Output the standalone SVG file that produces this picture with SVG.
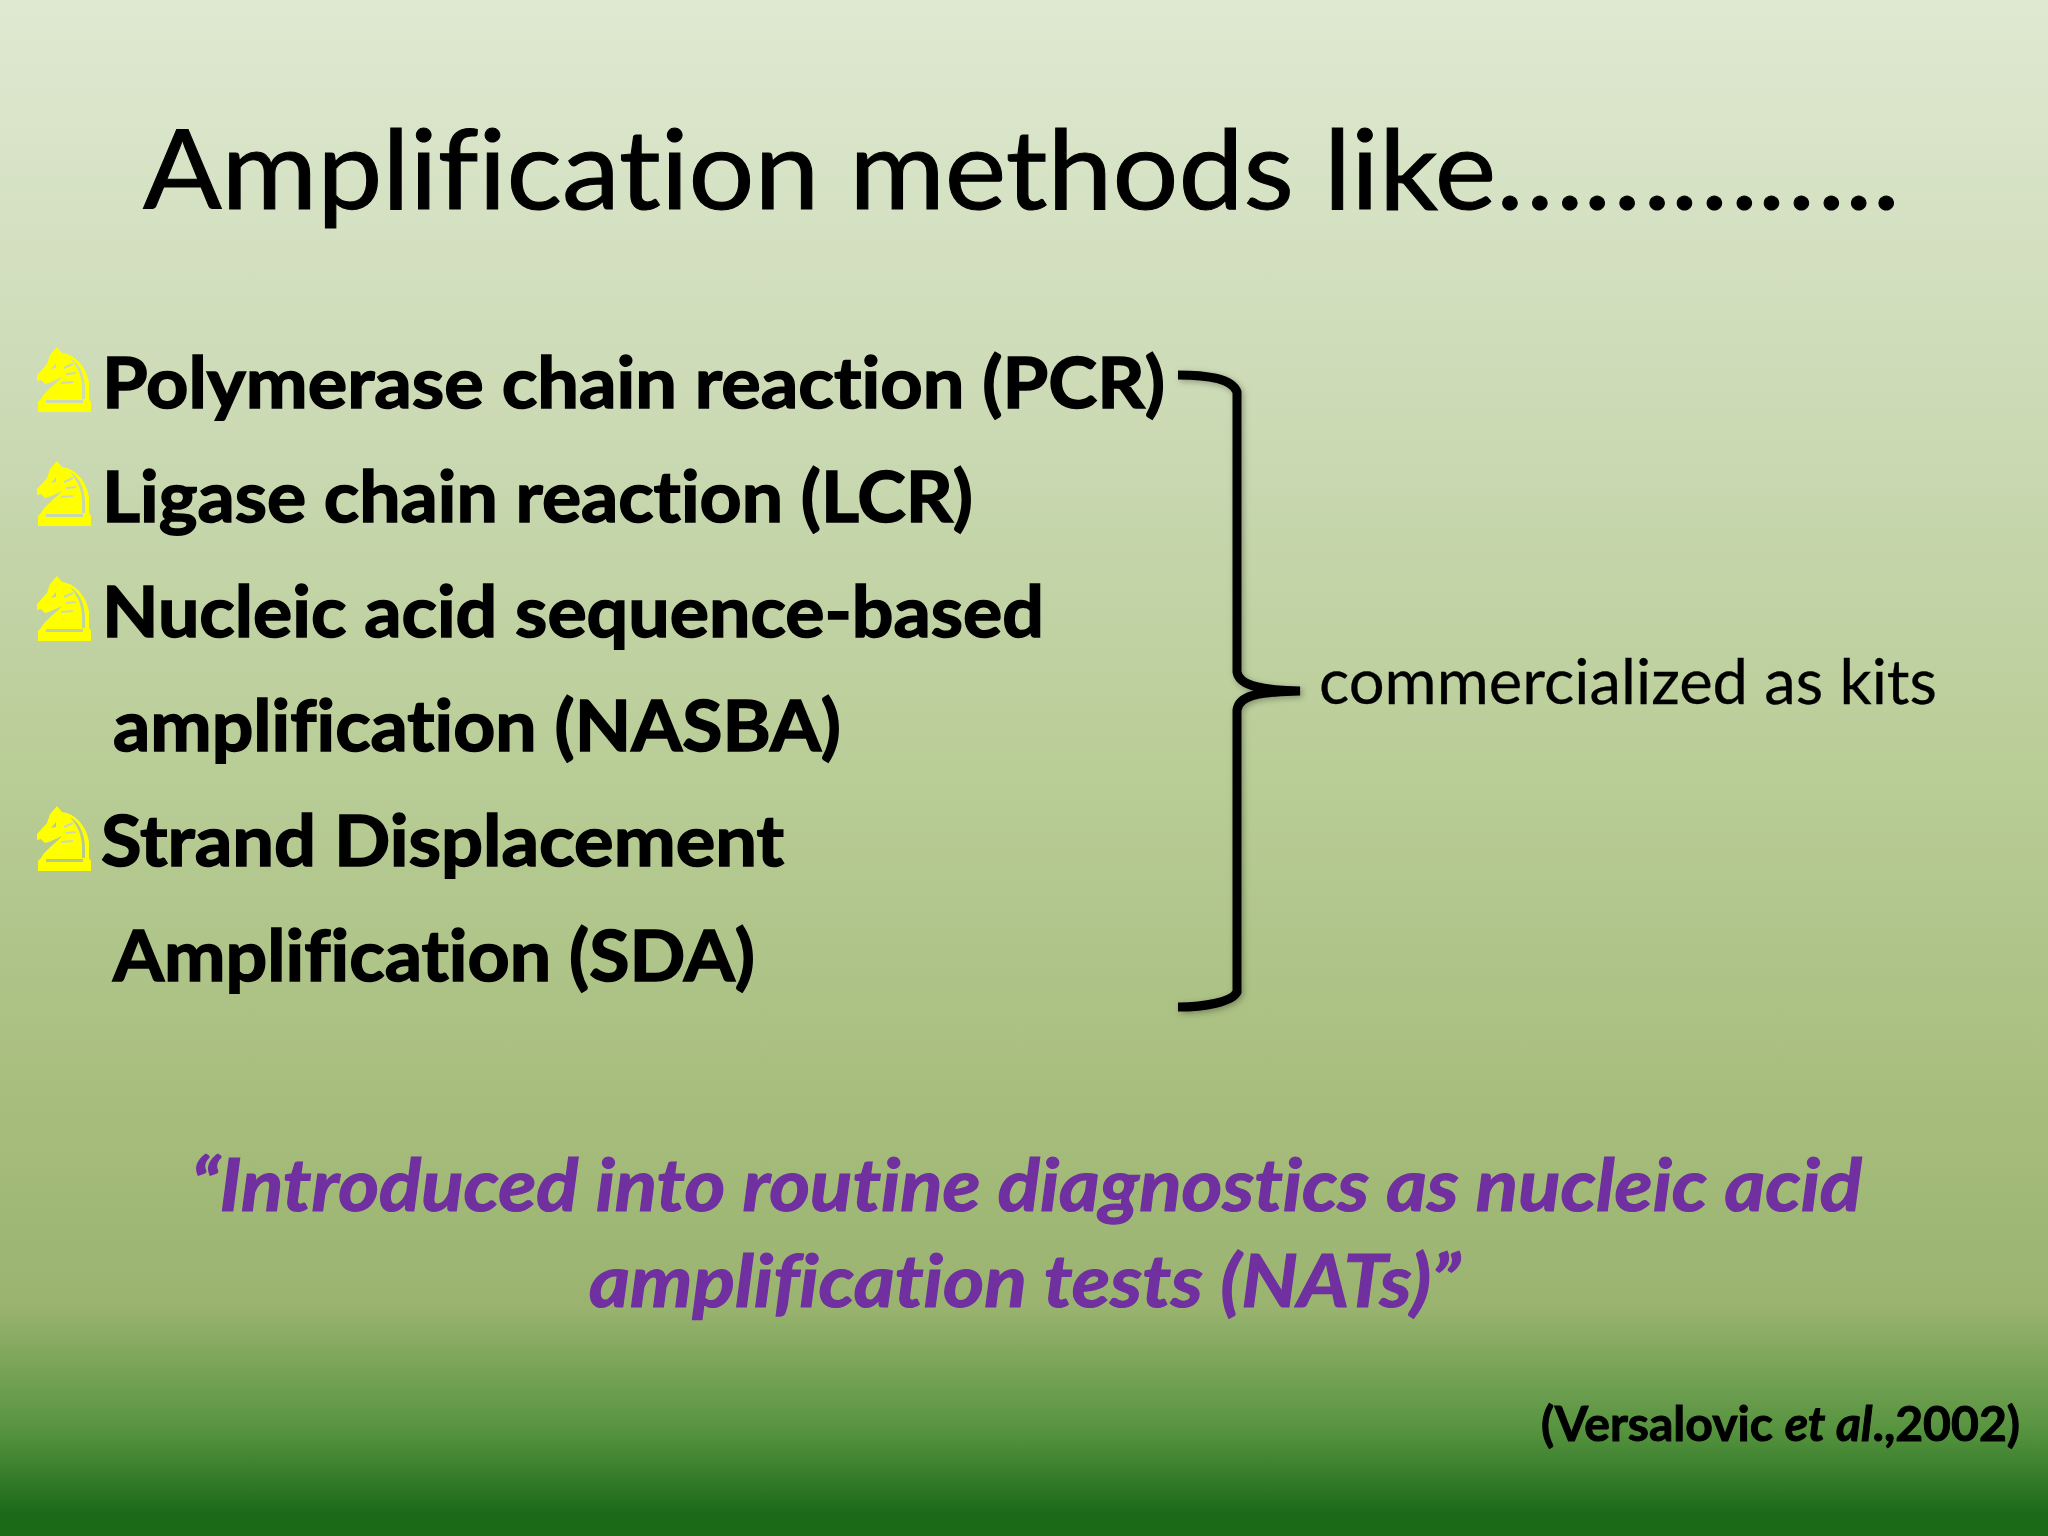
<svg xmlns="http://www.w3.org/2000/svg" width="2048" height="1536" viewBox="0 0 2048 1536">
<defs>
<linearGradient id="bg" x1="0" y1="0" x2="0" y2="1">
<stop offset="0" stop-color="#dfe9d1"/><stop offset="0.25" stop-color="#cddbb7"/><stop offset="0.5" stop-color="#b9cd97"/><stop offset="0.72" stop-color="#a7bd7d"/><stop offset="0.85" stop-color="#9ab470"/><stop offset="0.93" stop-color="#589440"/><stop offset="0.985" stop-color="#1b6a1a"/><stop offset="1" stop-color="#1a6a18"/>
</linearGradient>
<filter id="sh" x="-20%" y="-5%" width="140%" height="110%"><feDropShadow dx="2" dy="2" stdDeviation="3" flood-color="#000" flood-opacity="0.3"/></filter>
<g id="knight">
<path fill-rule="evenodd" fill="#ffff00" d="M20 0 L25 6 C40 8 50 22 52 36 L52 52 L54 55 L54 65 L1 65 L1 55 L4 52 C8 44 18 38 25 30 C19 33 12 36 8 37 L4 33 L0 34 L0 28 L10 17 L13 8 Z
M14 22 L19 16 L19 21 Z M33 11 C42 16 47 26 48 40 L48 52 L45 52 L45 38 C44 26 39 18 33 11 Z M9 53 L9 56 L46 56 L46 53 Z"/>
<path d="M27 21 L36 17 M29 27 L39 26 M24 36 L36 35" fill="none" stroke="#cdd9b5" stroke-width="2"/>
</g>
</defs>
<style>
text{font-family:Lato,"Open Sans",sans-serif;fill:#000;font-variant-ligatures:none}
.t{font-size:110px;stroke:#000;stroke-width:1}
.b{font-size:71px;font-weight:700;stroke:#000;stroke-width:1.5}
.q{font-size:73px;font-weight:700;font-style:italic;fill:#7030a0;stroke:#7030a0;stroke-width:1.2}
.k{font-size:62px;stroke:#000;stroke-width:.3}
.r{font-size:48px;font-weight:700;stroke:#000;stroke-width:1}
</style>
<rect width="2048" height="1536" fill="url(#bg)"/>
<text class="t" x="143" y="209" textLength="1757" lengthAdjust="spacingAndGlyphs">Amplification methods like…………..</text>
<use href="#knight" x="37" y="347"/><use href="#knight" x="37" y="461"/><use href="#knight" x="37" y="576"/><use href="#knight" x="37" y="806"/>
<text class="b" x="102" y="408" textLength="1063" lengthAdjust="spacingAndGlyphs">Polymerase chain reaction (PCR)</text>
<text class="b" x="102" y="522" textLength="871" lengthAdjust="spacingAndGlyphs">Ligase chain reaction (LCR)</text>
<text class="b" x="102" y="637" textLength="942" lengthAdjust="spacingAndGlyphs">Nucleic acid sequence-based</text>
<text class="b" x="113" y="751" textLength="728" lengthAdjust="spacingAndGlyphs">amplification (NASBA)</text>
<text class="b" x="101" y="866" textLength="683" lengthAdjust="spacingAndGlyphs">Strand Displacement</text>
<text class="b" x="113" y="981" textLength="642" lengthAdjust="spacingAndGlyphs">Amplification (SDA)</text>
<g id="connectors">
<path filter="url(#sh)" d="M1178 375 C1205 375 1232 378 1237 392 L1237 672 C1239 684 1255 690 1300 691 C1255 692 1239 696 1237 710 L1237 992 C1232 1002 1205 1007 1178 1007" fill="none" stroke="#000" stroke-width="9"/>
</g>
<text class="k" x="1319" y="704" textLength="618" lengthAdjust="spacingAndGlyphs">commercialized as kits</text>
<text class="q" x="191" y="1211" textLength="1671" lengthAdjust="spacingAndGlyphs">“Introduced into routine diagnostics as nucleic acid</text>
<text class="q" x="589" y="1307" textLength="871" lengthAdjust="spacingAndGlyphs">amplification tests (NATs)”</text>
<text class="r" x="1541" y="1441" textLength="479" lengthAdjust="spacingAndGlyphs">(Versalovic <tspan font-style="italic">et al</tspan>.,2002)</text>
</svg>
